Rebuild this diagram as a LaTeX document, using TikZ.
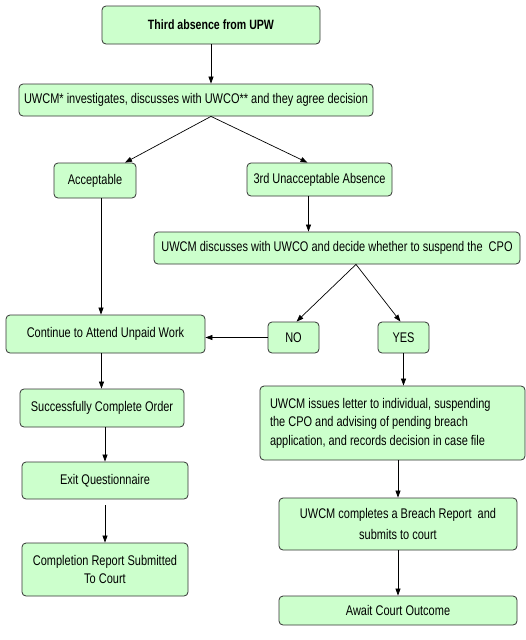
\documentclass[tikz,border=0pt]{standalone}
\usepackage{fontspec}
\setmainfont{Liberation Sans}[FakeStretch=0.785]
\usetikzlibrary{arrows.meta}
\definecolor{boxfill}{HTML}{CCFFCC}
\definecolor{boxline}{HTML}{333333}
\tikzset{
  box/.style={draw=boxline, fill=boxfill, rounded corners=4pt, line width=0.8pt,
    inner sep=0pt, align=center, font=\fontsize{14}{18.5}\selectfont},
  conn/.style={-{Triangle[length=7pt,width=5pt]}, line width=0.7pt, black}
}
\begin{document}
\begin{tikzpicture}[x=1pt,y=-1pt]
\useasboundingbox (0,0) rectangle (526,640);
\node[box, minimum width=218pt, minimum height=38pt, font=\fontsize{13.5}{15}\selectfont\bfseries] (t1) at (211,25) {Third absence from UPW};
\node[box, minimum width=354pt, minimum height=32pt] (t2) at (196,100) {UWCM* investigates, discusses with UWCO** and they agree decision};
\node[box, minimum width=82pt, minimum height=35pt] (acc) at (95,180.5) {Acceptable};
\node[box, minimum width=145pt, minimum height=33pt] (un) at (319.5,179.5) {3rd Unacceptable Absence};
\node[box, minimum width=366pt, minimum height=32pt] (disc) at (337,248) {UWCM discusses with UWCO and decide whether to suspend the\ \ CPO};
\node[box, minimum width=199pt, minimum height=38pt] (cont) at (105.5,334) {Continue to Attend Unpaid Work};
\node[box, minimum width=51pt, minimum height=31pt] (no) at (293.5,337.5) {NO};
\node[box, minimum width=51pt, minimum height=31pt] (yes) at (403.5,337.5) {YES};
\node[box, text width=245pt, inner xsep=10pt, minimum height=74pt, align=flush left] (letter) at (392.5,423) {UWCM issues letter to individual, suspending\\the CPO and advising of pending breach\\application, and records decision in case file};
\node[box, minimum width=238pt, minimum height=52pt] (breach) at (398,524) {UWCM completes a Breach Report\ \ and\\[3pt]submits to court};
\node[box, minimum width=238pt, minimum height=29pt] (await) at (398,610.5) {Await Court Outcome};
\node[box, minimum width=164pt, minimum height=38pt] (succ) at (102,408) {Successfully Complete Order};
\node[box, minimum width=166pt, minimum height=37pt] (exit) at (105,480.5) {Exit Questionnaire};
\node[box, minimum width=166pt, minimum height=53pt] (comp) at (105,569.5) {Completion Report Submitted\\To Court};

\draw[conn] (t1.south) -- (t1.south |- t2.north);
\coordinate (split) at (t1.south |- t2.south);
\draw[conn] (split) -- ([xshift=30pt]acc.north);
\draw[conn] (split) -- ([xshift=-12pt]un.north);
\draw[conn] ([xshift=-11pt]un.south) -- ([xshift=-11pt]un.south |- disc.north);
\coordinate (split2) at ([xshift=19pt]disc.south);
\draw[conn] (split2) -- ([xshift=3pt]no.north);
\draw[conn] (split2) -- ([xshift=-3pt]yes.north);
\draw[conn] (no.west) -- (no.west -| cont.east);
\draw[conn] ([xshift=6pt]acc.south) -- ([xshift=6pt]acc.south |- cont.north);
\draw[conn] ([xshift=-4pt]cont.south) -- ([xshift=-4pt]cont.south |- succ.north);
\draw[conn] ([xshift=3pt]succ.south) -- ([xshift=3pt]succ.south |- exit.north);
\draw[conn] ([yshift=-6pt]exit.south) -- (comp.north);
\draw[conn] (yes.south) -- (yes.south |- letter.north);
\draw[conn] (breach.north |- letter.south) -- (breach.north);
\draw[conn] (breach.south) -- (await.north);
\end{tikzpicture}
\end{document}
